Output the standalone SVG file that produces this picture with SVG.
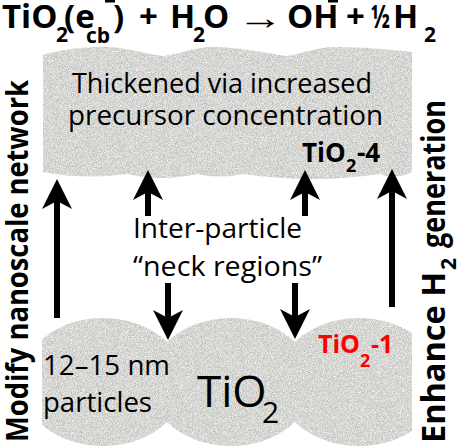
<svg xmlns="http://www.w3.org/2000/svg" width="458" height="447" viewBox="0 0 458 447">
<style>
.t{font-family:"Open Sans","Liberation Sans",sans-serif;fill:#000}
.b{font-weight:bold}
.red{fill:#ff0000}
.conn{stroke:#000;stroke-width:6;fill:none;marker-end:url(#ah)}
.gray{fill:#c8c8c8;filter:url(#grain)}
</style>
<defs>
<filter id="grain" filterUnits="userSpaceOnUse" x="0" y="0" width="458" height="447" color-interpolation-filters="sRGB">
<feTurbulence type="fractalNoise" baseFrequency="1.2" numOctaves="2" seed="4" result="n"/>
<feColorMatrix in="n" type="matrix" values="0.4 0 0 0 0.64  0.4 0 0 0 0.64  0.4 0 0 0 0.63  0 0 0 0 1" result="g"/>
<feComposite in="g" in2="SourceGraphic" operator="in"/>
</filter>
<clipPath id="pclip"><rect x="42" y="300" width="370" height="147"/></clipPath>
<marker id="ah" markerUnits="userSpaceOnUse" viewBox="0 0 30 30" markerWidth="30" markerHeight="30" refX="10" refY="15" orient="auto">
<path d="M30,15 L0,0 L8,15 L0,30 Z" fill="#000"/>
</marker>
</defs>

<g id="equation" class="t b" font-size="33">
<text x="2" y="28">TiO</text>
<text x="56" y="42" font-size="21">2</text>
<text x="64" y="28">(e</text>
<text x="86" y="43" font-size="21">cb</text>
<rect x="105" y="0" width="10" height="2.5" fill="#000"/>
<text x="113" y="28">)</text>
<text x="139" y="28">+</text>
<text x="170" y="28">H</text>
<text x="193" y="42" font-size="21">2</text>
<text x="203" y="28">O</text>
<text x="237" y="29" textLength="46" lengthAdjust="spacingAndGlyphs">→</text>
<text x="287" y="28">OH</text>
<rect x="328" y="0" width="10" height="2.5" fill="#000"/>
<text x="346" y="28">+</text>
<text x="371" y="28" textLength="19" lengthAdjust="spacingAndGlyphs">½</text>
<text x="393" y="28">H</text>
<text x="424" y="42" font-size="21">2</text>
</g>

<g id="thick-film">
<path class="gray" d="M43,55 C60,50 85,46 107,47 C130,48 145,54 163,56 C180,54 195,47 213,47 C240,47 265,53 287,56 C305,53 318,47 335,47 C365,47 395,50 412,52 L412,172 Q396,180 380,174 Q312,184 243,174 Q220,179 197,174 Q162,182 127,174 Q85,180 43,172 Z"/>
<text class="t" x="72" y="93" font-size="28" textLength="300" lengthAdjust="spacingAndGlyphs">Thickened via increased</text>
<text class="t" x="68" y="125" font-size="28" textLength="315" lengthAdjust="spacingAndGlyphs">precursor concentration</text>
<g class="t b" font-size="26">
<text x="302" y="162">TiO</text>
<text x="346" y="172" font-size="18">2</text>
<text x="357" y="162">-4</text>
</g>
</g>

<g id="particles">
<g clip-path="url(#pclip)">
<ellipse class="gray" cx="103" cy="382" rx="82" ry="64"/>
<ellipse class="gray" cx="231" cy="382" rx="82" ry="64"/>
<ellipse class="gray" cx="359" cy="382" rx="82" ry="64"/>
</g>
<text class="t" x="43" y="375" font-size="28" textLength="127" lengthAdjust="spacingAndGlyphs">12–15 nm</text>
<text class="t" x="43" y="412" font-size="28" textLength="109" lengthAdjust="spacingAndGlyphs">particles</text>
<text class="t" x="197" y="407" font-size="44">TiO</text>
<text class="t" x="262" y="423" font-size="30">2</text>
<g class="t b red" font-size="25">
<text x="318" y="353">TiO</text>
<text x="360" y="367" font-size="18">2</text>
<text x="371" y="353">-1</text>
</g>
</g>

<g id="neck-label" class="t" font-size="28">
<text x="133" y="238" textLength="169" lengthAdjust="spacingAndGlyphs">Inter-particle</text>
<text x="133" y="276" textLength="189" lengthAdjust="spacingAndGlyphs">“neck regions”</text>
</g>

<g id="left-label" class="t b" font-size="30">
<text transform="translate(28,442) rotate(-90)" textLength="362" lengthAdjust="spacingAndGlyphs">Modify nanoscale network</text>
</g>

<g id="right-label" class="t b" font-size="33">
<g transform="translate(445,443) rotate(-90)">
<text x="0" y="0" textLength="171" lengthAdjust="spacingAndGlyphs">Enhance H</text>
<text x="173" y="11" font-size="21">2</text>
<text x="195" y="0" textLength="148" lengthAdjust="spacingAndGlyphs">generation</text>
</g>
</g>

<g id="connectors">
<path class="conn" d="M57,318 L57,199"/>
<path class="conn" d="M148,216 L148,190"/>
<path class="conn" d="M305,216 L305,190"/>
<path class="conn" d="M392,307 L392,189"/>
<path class="conn" d="M168,283 L168,320"/>
<path class="conn" d="M295,283 L295,319"/>
</g>
</svg>
